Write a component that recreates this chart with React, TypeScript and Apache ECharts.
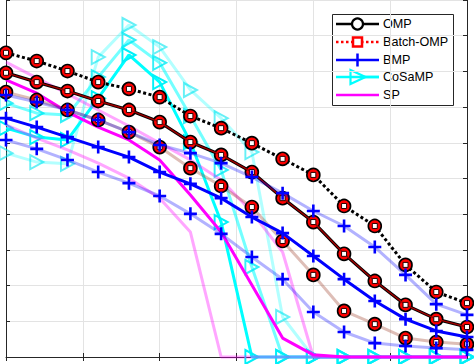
import React, { useEffect, useRef } from "react";
import * as echarts from "echarts";

const xValues = [0, 2, 4, 6, 8, 10, 12, 14, 16, 18, 20, 22, 24, 26, 28, 30];

const ompHigh = [85.2, 82.9, 80.1, 77.0, 75.1, 72.8, 67.5, 64.1, 59.9, 55.5, 51.0, 42.3, 36.7, 25.8, 18.2, 15.1];
const ompMid = [79.6, 77.0, 74.5, 71.7, 69.2, 65.8, 60.2, 56.6, 51.8, 44.5, 37.8, 28.9, 21.3, 14.6, 10.6, 8.4];
const ompLow = [74.2, 72.0, 69.2, 66.4, 63.0, 58.8, 52.9, 47.9, 42.0, 32.5, 23.0, 12.9, 9.2, 5.3, 4.2, 3.6];

const bmpHigh = [73.4, 71.4, 69.2, 66.4, 63.0, 59.4, 57.1, 54.3, 50.4, 45.9, 40.9, 36.7, 30.8, 23.0, 14.8, 11.8];
const bmpMid = [66.9, 64.4, 61.6, 58.8, 56.0, 51.8, 48.5, 44.5, 39.2, 34.7, 28.3, 21.8, 15.7, 10.6, 7.3, 5.6];
const bmpLow = [60.8, 58.3, 55.2, 51.8, 48.7, 45.1, 40.1, 34.5, 28.0, 21.8, 12.6, 7.0, 3.9, 3.1, 2.5, 2.0];

const cosampFull = [64.1, 61.6, 60.8, 72.5, 84.6, 77.0, 60.2, 37.8, 0, 0, 0, 0, 0, 0, 0, 0];
const cosampMid = [71.1, 68.3, 67.8, 78.4, 88.8, 82.4, 67.5, 52.4, 25.2, 0, 0, 0, 0, 0, 0, 0];
const cosampLight = [57.1, 54.6, 54.1, 84.0, 93.0, 86.8, 74.8, 66.9, 57.4, 11.2, 0, 0, 0, 0, 0, 0];

const spUpper = [82.6, 78.2, 73.7, 69.2, 64.7, 59.9, 55.2, 49.6, 40.6, 29.4, 0, 0, 0, 0, 0, 0];
const spMain = [77.6, 73.9, 68.6, 64.4, 60.8, 55.2, 45.4, 35.0, 20.2, 5.3, 0.6, 0, 0, 0, 0, 0];
const spLower = [65.0, 61.3, 58.0, 54.3, 50.1, 44.5, 35.0, 0, 0, 0, 0, 0, 0, 0, 0, 0];

const legendNames = ["OMP", "Batch-OMP", "BMP", "CoSaMP", "SP"];

const PLUS = "path://M4,0H6V4H10V6H6V10H4V6H0V4H4Z";
const TRI = "path://M0,0L10,5L0,10Z";

const pts = (ys: number[]) => ys.map((y, i) => [xValues[i], y]);

let zc = 2;
function mk(name: string, ys: number[], lineStyle: any, symbol: string, symbolSize: any, itemStyle: any) {
  zc += 1;
  return {
    type: "line",
    name,
    data: pts(ys),
    lineStyle,
    symbol,
    symbolSize,
    itemStyle,
    showSymbol: symbol !== "none",
    showAllSymbol: true,
    clip: false,
    silent: true,
    z: zc,
    emphasis: { disabled: true },
  };
}

export default function App() {
  const ref = useRef<HTMLDivElement>(null);
  useEffect(() => {
    const chart = echarts.init(ref.current!, null, { renderer: "svg" });
    zc = 2;
    const triStyle = (c: string) => ({ color: "rgba(255,255,255,0)", borderColor: c, borderWidth: 2 });
    const ompMarker = { color: "#ff0000", borderColor: "#000", borderWidth: 1.6 };
    const bompMarker = { color: "#ffffff", borderColor: "#300000", borderWidth: 1 };
    const plusMarker = { color: "#0000ff" };

    const series: any[] = [
      // CoSaMP
      mk("CoSaMP-light", cosampLight, { color: "rgba(0,255,255,0.3)", width: 3 }, TRI, [13, 14], triStyle("rgba(0,230,240,0.6)")),
      mk("CoSaMP-mid", cosampMid, { color: "rgba(0,255,255,0.55)", width: 3 }, TRI, [13, 14], triStyle("rgba(0,235,245,0.8)")),
      mk("CoSaMP", cosampFull, { color: "#00ffff", width: 3 }, TRI, [13, 14], triStyle("#00f0f8")),
      // SP
      mk("SP-upper", spUpper, { color: "rgba(255,0,255,0.35)", width: 3 }, "none", 0, { color: "rgba(255,0,255,0.35)" }),
      mk("SP-lower", spLower, { color: "rgba(255,0,255,0.35)", width: 3 }, "none", 0, { color: "rgba(255,0,255,0.35)" }),
      mk("SP", spMain, { color: "#ff00ff", width: 3 }, "none", 0, { color: "#ff00ff" }),
      // OMP / Batch-OMP
      mk("OMP-low", ompLow, { color: "rgba(160,70,50,0.35)", width: 3 }, "circle", 13, ompMarker),
      mk("Batch-OMP-low", ompLow, { color: "rgba(0,0,0,0)", width: 0 }, "rect", 5, bompMarker),
      mk("OMP-mid", ompMid, { color: "#000000", width: 3.2 }, "circle", 13, ompMarker),
      mk("Batch-OMP-mid", ompMid, { color: "#a00000", width: 1.4 }, "rect", 5, bompMarker),
      mk("OMP", ompHigh, { color: "#000000", width: 3, type: [3, 2.5] }, "circle", 13, ompMarker),
      mk("Batch-OMP", ompHigh, { color: "rgba(0,0,0,0)", width: 0 }, "rect", 5, bompMarker),
      // BMP
      mk("BMP-high", bmpHigh, { color: "rgba(0,0,255,0.3)", width: 3 }, PLUS, 13, plusMarker),
      mk("BMP-low", bmpLow, { color: "rgba(0,0,255,0.3)", width: 3 }, PLUS, 13, plusMarker),
      mk("BMP", bmpMid, { color: "#0000ff", width: 3 }, PLUS, 13, plusMarker),
    ];

    const axisCol = "#262626";
    const gridCol = "#e3e3e3";
    const baseX = {
      type: "value",
      min: 0,
      max: 30,
      interval: 5,
      axisLabel: { show: false },
      axisTick: { show: true, inside: true, length: 4, lineStyle: { color: axisCol } },
    };
    const baseY = {
      type: "value",
      min: 0,
      max: 100,
      interval: 10,
      axisLabel: { show: false },
      axisTick: { show: true, inside: true, length: 4, lineStyle: { color: axisCol } },
    };

    // Legend graphic
    const lx1 = 336, lx2 = 379, mx = 357.5, tx = 383;
    const ly = [24, 42, 60, 77, 95];
    const font = '12.6px "Liberation Sans", Arial, sans-serif';
    const g: any[] = [
      { type: "rect", shape: { x: 332.5, y: 14.5, width: 121, height: 91 }, style: { fill: "#fff", stroke: axisCol, lineWidth: 1 } },
      // OMP
      { type: "line", shape: { x1: lx1, y1: ly[0], x2: lx2, y2: ly[0] }, style: { stroke: "#000", lineWidth: 2.5 } },
      { type: "circle", shape: { cx: mx, cy: ly[0], r: 5.5 }, style: { fill: "#fff", stroke: "#000", lineWidth: 2.2 } },
      // Batch-OMP
      { type: "line", shape: { x1: lx1, y1: ly[1], x2: lx2, y2: ly[1] }, style: { stroke: "#ff0000", lineWidth: 2.5, lineDash: [2.5, 2.5] } },
      { type: "rect", shape: { x: mx - 4.5, y: ly[1] - 4.5, width: 9, height: 9 }, style: { fill: "#fff", stroke: "#ff0000", lineWidth: 2.5 } },
      // BMP
      { type: "line", shape: { x1: lx1, y1: ly[2], x2: lx2, y2: ly[2] }, style: { stroke: "#0000ff", lineWidth: 2.5 } },
      { type: "line", shape: { x1: mx, y1: ly[2] - 6.5, x2: mx, y2: ly[2] + 6.5 }, style: { stroke: "#0000ff", lineWidth: 2.5 } },
      // CoSaMP
      { type: "line", shape: { x1: lx1, y1: ly[3], x2: lx2, y2: ly[3] }, style: { stroke: "#00ffff", lineWidth: 2.5 } },
      { type: "polygon", shape: { points: [[mx - 7, ly[3] - 7], [mx + 8, ly[3]], [mx - 7, ly[3] + 7]] }, style: { fill: "#fff", stroke: "#00ffff", lineWidth: 2.2 } },
      { type: "line", shape: { x1: mx - 7, y1: ly[3], x2: lx2, y2: ly[3] }, style: { stroke: "#00ffff", lineWidth: 2.5 } },
      // SP
      { type: "line", shape: { x1: lx1, y1: ly[4], x2: lx2, y2: ly[4] }, style: { stroke: "#ff00ff", lineWidth: 2.5 } },
    ];
    legendNames.forEach((n, i) => {
      g.push({ type: "text", x: tx, y: ly[i], style: { text: n, font, fill: "#000", verticalAlign: "middle", align: "left" } });
    });

    chart.setOption({
      animation: false,
      backgroundColor: "#ffffff",
      grid: { left: 6, right: 7, top: 0, bottom: 7 },
      xAxis: [
        { ...baseX, position: "bottom", axisLine: { show: true, onZero: false, lineStyle: { color: axisCol, width: 1 } }, splitLine: { show: true, lineStyle: { color: gridCol, width: 1 } } },
        { ...baseX, position: "top", axisLine: { show: false }, splitLine: { show: false } },
      ],
      yAxis: [
        { ...baseY, position: "left", axisLine: { show: true, onZero: false, lineStyle: { color: axisCol, width: 1 } }, splitLine: { show: true, lineStyle: { color: gridCol, width: 1 } } },
        { ...baseY, position: "right", axisLine: { show: true, onZero: false, lineStyle: { color: axisCol, width: 1 } }, splitLine: { show: false } },
      ],
      series,
      graphic: [{ type: "group", z: 100, children: g }],
    });
    return () => chart.dispose();
  }, []);
  return <div ref={ref} style={{ position: "fixed", left: 0, top: 0, width: 474, height: 364 }} />;
}
